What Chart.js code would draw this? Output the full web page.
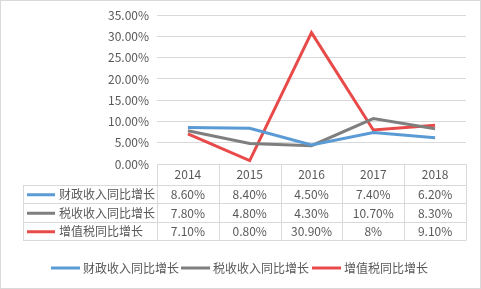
<!DOCTYPE html>
<html>
<head>
<meta charset="utf-8">
<script src="https://cdn.jsdelivr.net/npm/chart.js@4.4.1/dist/chart.umd.min.js"></script>
<style>
  html, body { margin: 0; padding: 0; background: #fff; }
  #wrap { width: 481px; height: 289px; }
</style>
</head>
<body>
<div id="wrap"><canvas id="growthChart" width="481" height="289"></canvas></div>
<script>
// data (percent)
const years = ["2014", "2015", "2016", "2017", "2018"];
const fiscalRevenue = [8.6, 8.4, 4.5, 7.4, 6.2];
const taxRevenue = [7.8, 4.8, 4.3, 10.7, 8.3];
const vatGrowth = [7.1, 0.8, 30.9, 8, 9.1];
const seriesNames = ["财政收入同比增长", "税收收入同比增长", "增值税同比增长"];

const FONT = "'Noto Sans CJK SC', 'Microsoft YaHei', sans-serif";
const TEXT = "#595959";
const LINE = "#D9D9D9";

const pct = v => (Number.isInteger(v) ? v : v.toFixed(2)) + "%";

// data table under the plot + legend at the bottom
const tablePlugin = {
  id: "dataTable",
  beforeDraw(chart) {
    const ctx = chart.ctx;
    ctx.save();
    ctx.fillStyle = "#fff";
    ctx.fillRect(0, 0, chart.width, chart.height);
    ctx.strokeStyle = LINE;
    ctx.lineWidth = 1;
    ctx.strokeRect(0.5, 0.5, chart.width - 1, chart.height - 1);
    ctx.restore();
  },
  afterDraw(chart) {
    const ctx = chart.ctx;
    const x = chart.scales.x;
    const area = chart.chartArea;
    const colW = x.width / years.length;
    const top = area.bottom;
    const rows = [top, 185.5, 204, 222.5, 241];
    const labelLeft = 23;

    ctx.save();
    ctx.strokeStyle = LINE;
    ctx.lineWidth = 1;
    ctx.beginPath();
    // horizontal rules
    for (let r = 1; r < rows.length; r++) {
      const y = Math.round(rows[r]) - 0.5;
      ctx.moveTo(labelLeft, y);
      ctx.lineTo(x.right, y);
    }
    // vertical rules
    for (let i = 0; i <= years.length; i++) {
      const px = Math.round(x.left + i * colW) + 0.5;
      ctx.moveTo(px, top);
      ctx.lineTo(px, Math.round(rows[4]) - 0.5);
    }
    ctx.moveTo(labelLeft + 0.5, Math.round(rows[1]) - 0.5);
    ctx.lineTo(labelLeft + 0.5, Math.round(rows[4]) - 0.5);
    ctx.stroke();

    ctx.font = "12px " + FONT;
    ctx.fillStyle = TEXT;
    ctx.textBaseline = "middle";
    ctx.textAlign = "center";
    years.forEach((yr, i) => {
      ctx.fillText(yr, x.getPixelForValue(i), (rows[0] + rows[1]) / 2);
    });

    chart.data.datasets.forEach((ds, d) => {
      const cy = (rows[d + 1] + rows[d + 2]) / 2;
      ctx.strokeStyle = ds.borderColor;
      ctx.lineWidth = 3;
      ctx.beginPath();
      ctx.moveTo(27, cy);
      ctx.lineTo(55, cy);
      ctx.stroke();
      ctx.fillStyle = TEXT;
      ctx.textAlign = "left";
      ctx.fillText(ds.label, 59, cy);
      ctx.textAlign = "center";
      ds.data.forEach((v, i) => {
        ctx.fillText(pct(v), x.getPixelForValue(i), cy);
      });
    });

    // legend
    const legendY = 268;
    const legendX = [51, 181, 312];
    chart.data.datasets.forEach((ds, d) => {
      const lx = legendX[d];
      ctx.strokeStyle = ds.borderColor;
      ctx.lineWidth = 3;
      ctx.beginPath();
      ctx.moveTo(lx, legendY);
      ctx.lineTo(lx + 29, legendY);
      ctx.stroke();
      ctx.fillStyle = TEXT;
      ctx.textAlign = "left";
      ctx.fillText(ds.label, lx + 32, legendY);
    });
    ctx.restore();
  }
};

new Chart(document.getElementById("growthChart"), {
  type: "line",
  data: {
    labels: years,
    datasets: [
      { label: seriesNames[0], data: fiscalRevenue, borderColor: "#5B9BD5" },
      { label: seriesNames[1], data: taxRevenue, borderColor: "#7F7F7F" },
      { label: seriesNames[2], data: vatGrowth, borderColor: "#E84A4A" },
    ],
  },
  options: {
    responsive: false,
    animation: false,
    layout: { padding: { left: 0, top: 15, right: 15, bottom: 125 } },
    elements: {
      line: { borderWidth: 3, tension: 0, borderCapStyle: "butt" },
      point: { radius: 0, hoverRadius: 0 },
    },
    plugins: {
      legend: { display: false },
      tooltip: { enabled: false },
    },
    scales: {
      x: {
        display: false,
        offset: true,
      },
      y: {
        min: 0,
        max: 35,
        afterFit: s => { s.width = 157; },
        border: { display: false },
        grid: { color: LINE, drawTicks: false },
        ticks: {
          stepSize: 5,
          padding: 8,
          color: TEXT,
          font: { family: FONT, size: 12 },
          callback: v => v.toFixed(2) + "%",
        },
      },
    },
  },
  plugins: [tablePlugin],
});
</script>
</body>
</html>
